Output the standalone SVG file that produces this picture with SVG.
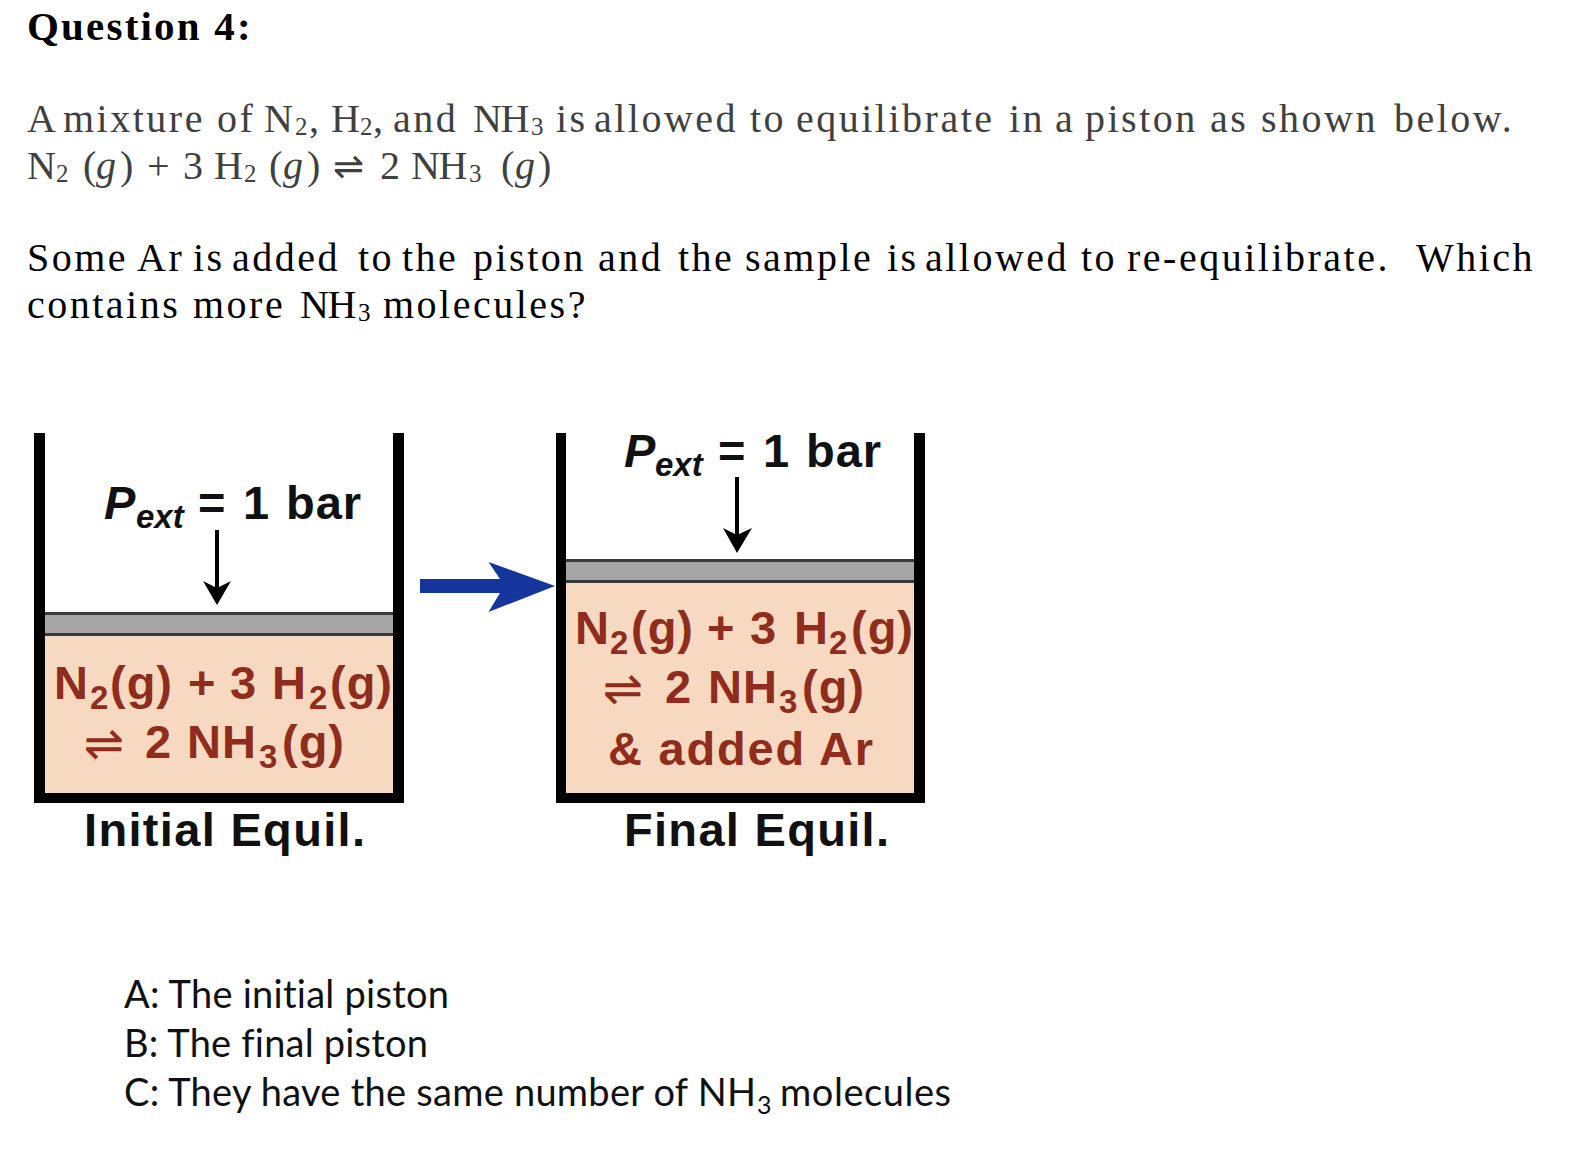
<svg xmlns="http://www.w3.org/2000/svg" width="1593" height="1169" viewBox="0 0 1593 1169">
<style>
.q{font-family:"Liberation Serif",serif;font-size:40px;letter-spacing:2.5px}
.t{font-size:41px;font-weight:700;letter-spacing:2.2px}
.g{fill:#404040}.k{fill:#000}
.s{font-size:25px;letter-spacing:0}
.n{letter-spacing:-1.5px}
.i{font-style:italic}
.a{font-family:Lato,"Liberation Sans",sans-serif;font-size:38px;fill:#111;font-variant-ligatures:none}
.h{font-family:"Liberation Sans",Arial,sans-serif;font-weight:700;font-size:47px;letter-spacing:1px;fill:#111}
.r{fill:#8f2c1c}
.sb{font-size:33px;letter-spacing:0}
.wall{fill:#000}
.gas{fill:#f7d9c1}
.pis{fill:#a6a6a6;stroke:#3a3a3a;stroke-width:3}
.eq{font-family:"DejaVu Sans",sans-serif;font-size:48px;font-weight:400}
.eqs{font-family:"DejaVu Sans",sans-serif;font-size:37px;letter-spacing:0}
.push{stroke:#000;stroke-width:4;fill:none}
</style>
<rect width="1593" height="1169" fill="#fff"/>
<g id="question">
<text class="q t k" x="27" y="40">Question 4:</text>
<text class="q g" y="132"><tspan x="27">A</tspan><tspan x="63">mixture</tspan><tspan x="217">of</tspan><tspan x="264">N</tspan><tspan class="s" x="295" y="135">2</tspan><tspan x="309" y="132">,</tspan><tspan x="331">H</tspan><tspan class="s" x="360" y="135">2</tspan><tspan x="373" y="132">,</tspan><tspan x="393">and</tspan><tspan class="n" x="473">NH</tspan><tspan class="s" x="531" y="135">3</tspan><tspan x="556" y="132">is</tspan><tspan x="594">allowed</tspan><tspan x="750">to</tspan><tspan x="796">equilibrate</tspan><tspan x="1009">in</tspan><tspan x="1055">a</tspan><tspan x="1085">piston</tspan><tspan x="1210">as</tspan><tspan x="1261">shown</tspan><tspan x="1394">below.</tspan></text>
<text class="q g" y="179"><tspan x="27">N</tspan><tspan class="s" x="56" y="182">2</tspan><tspan x="83" y="179">(</tspan><tspan class="i" x="96">g</tspan><tspan x="120">)</tspan><tspan x="147">+</tspan><tspan x="183">3</tspan><tspan x="214">H</tspan><tspan class="s" x="244" y="182">2</tspan><tspan x="269" y="179">(</tspan><tspan class="i" x="283">g</tspan><tspan x="307">)</tspan><tspan class="eqs" x="333">⇌</tspan><tspan x="380">2</tspan><tspan class="n" x="411">NH</tspan><tspan class="s" x="469" y="182">3</tspan><tspan x="501" y="179">(</tspan><tspan class="i" x="515">g</tspan><tspan x="538">)</tspan></text>
<text class="q k" y="271"><tspan x="27">Some</tspan><tspan x="137">Ar</tspan><tspan x="193">is</tspan><tspan x="232">added</tspan><tspan x="358">to</tspan><tspan x="402">the</tspan><tspan x="473">piston</tspan><tspan x="598">and</tspan><tspan x="678">the</tspan><tspan x="745">sample</tspan><tspan x="887">is</tspan><tspan x="925">allowed</tspan><tspan x="1081">to</tspan><tspan x="1127">re-equilibrate.</tspan><tspan x="1416">Which</tspan></text>
<text class="q k" y="318"><tspan x="27">contains</tspan><tspan x="193">more</tspan><tspan class="n" x="300">NH</tspan><tspan class="s" x="358" y="321">3</tspan><tspan x="383" y="318">molecules?</tspan></text>
</g>
<g id="piston-initial">
<rect class="gas" x="40" y="633" width="360" height="165"/>
<rect class="pis" x="40" y="613.500" width="360" height="21"/>
<path class="wall" d="M34 433H45V793H393V433H404V803H34Z"/>
<text class="h" y="519"><tspan class="i" x="104">P</tspan><tspan class="sb i" x="136" y="528">ext</tspan><tspan x="198" y="519">=</tspan><tspan x="243">1</tspan><tspan x="286">bar</tspan></text>
<text class="h r" y="699"><tspan x="54">N</tspan><tspan class="sb" x="90" y="709">2</tspan><tspan x="110" y="699">(g)</tspan><tspan x="188">+</tspan><tspan x="230">3</tspan><tspan x="272">H</tspan><tspan class="sb" x="309" y="709">2</tspan><tspan x="330" y="699">(g)</tspan></text>
<text class="eq r" x="84" y="760">⇌</text>
<text class="h r" y="758"><tspan x="145">2</tspan><tspan x="187">NH</tspan><tspan class="sb" x="259" y="768">3</tspan><tspan x="282" y="758">(g)</tspan></text>
<text class="h" x="84" y="846" textLength="282">Initial Equil.</text>
</g>
<g id="piston-final">
<rect class="gas" x="560" y="580" width="360" height="218"/>
<rect class="pis" x="560" y="560.500" width="360" height="21"/>
<path class="wall" d="M556 433H566V793H914V433H925V803H556Z"/>
<text class="h" y="467"><tspan class="i" x="624">P</tspan><tspan class="sb i" x="655" y="476">ext</tspan><tspan x="718" y="467">=</tspan><tspan x="763">1</tspan><tspan x="806">bar</tspan></text>
<text class="h r" y="644"><tspan x="575">N</tspan><tspan class="sb" x="610" y="654">2</tspan><tspan x="631" y="644">(g)</tspan><tspan x="707">+</tspan><tspan x="750">3</tspan><tspan x="794">H</tspan><tspan class="sb" x="829" y="654">2</tspan><tspan x="851" y="644">(g)</tspan></text>
<text class="eq r" x="603" y="705">⇌</text>
<text class="h r" y="703"><tspan x="665">2</tspan><tspan x="708">NH</tspan><tspan class="sb" x="779" y="713">3</tspan><tspan x="802" y="703">(g)</tspan></text>
<text class="h r" x="608" y="765" textLength="266">&amp; added Ar</text>
<text class="h" x="624" y="846" textLength="266">Final Equil.</text>
</g>
<g id="connectors">
<path class="push" d="M217 530V590"/>
<path d="M203 581L217 588L231 581L217 605Z" fill="#000"/>
<path class="push" d="M737 477V538"/>
<path d="M723 528L737 535L752 528L737 553Z" fill="#000"/>
<path d="M420 579H500L488.500 562L555 586L488.500 612L500 593H420Z" fill="#14359b"/>
</g>
<g id="answers">
<text class="a" x="124" y="1008" textLength="325">A: The initial piston</text>
<text class="a" x="124" y="1057" textLength="304">B: The final piston</text>
<text class="a" x="124" y="1106" textLength="632">C: They have the same number of NH</text>
<text class="a" x="757" y="1114" style="font-size:25px">3</text>
<text class="a" x="780" y="1106" textLength="171">molecules</text>
</g>
</svg>
